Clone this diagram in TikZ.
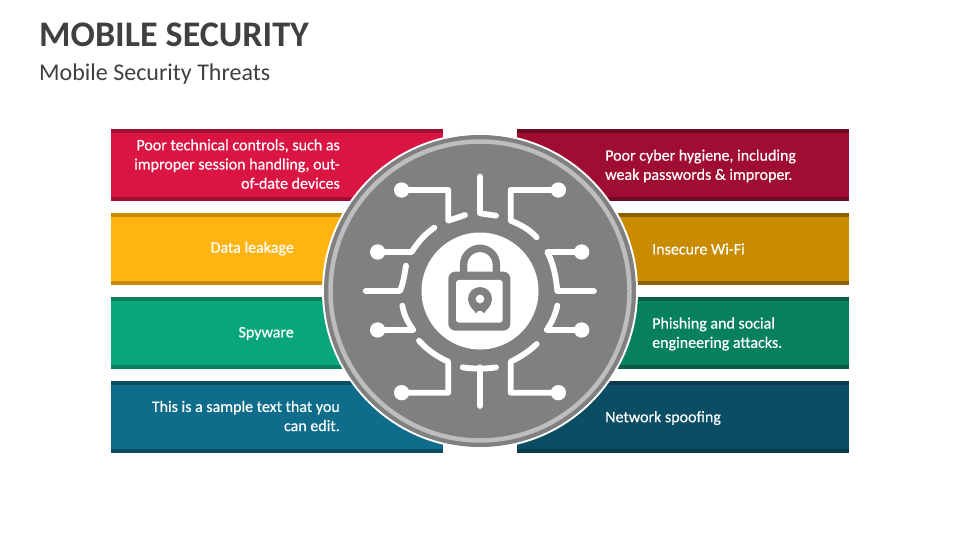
\documentclass[tikz,border=0pt]{standalone}
\usepackage{fontspec}
\setmainfont{Carlito}
\newfontfamily\semi[FakeBold=0.4]{Carlito}
\definecolor{ttl}{HTML}{404040}
\definecolor{gr}{HTML}{808080}
\definecolor{lgr}{HTML}{BDBDBD}
\definecolor{ra}{HTML}{DA1543}\definecolor{rb}{HTML}{A30E33}
\definecolor{ya}{HTML}{FFB511}\definecolor{yb}{HTML}{C98C00}
\definecolor{ga}{HTML}{08A67A}\definecolor{gb}{HTML}{07805E}
\definecolor{ba}{HTML}{0F6C8A}\definecolor{bb}{HTML}{0B4D63}
\definecolor{rc}{HTML}{A00D33}\definecolor{rd}{HTML}{6F0A25}
\definecolor{yc}{HTML}{C98C00}\definecolor{yd}{HTML}{8A6000}
\definecolor{gc}{HTML}{07805E}\definecolor{gd}{HTML}{0A5C46}
\definecolor{bc}{HTML}{0B4D63}\definecolor{bd}{HTML}{0D3A4A}
\tikzset{
 x=1pt,y=-1pt,
 lbl/.style={text=white,font=\semi\fontsize{16}{19.2}\selectfont,inner sep=0pt},
 lblr/.style={lbl,anchor=east,align=right},
 lbll/.style={lbl,anchor=west,align=left},
 trace/.style={draw=white,line width=5.8pt,line cap=round,line join=round},
 pad/.style={fill=white},
}
\newcommand{\barrow}[4]{% x, y, fill, edge
 \fill[#3] (#1,#2) rectangle ++(332,71.5);
 \fill[#4] (#1,#2) rectangle ++(332,4);
 \fill[#4] (#1,#2+67.5) rectangle ++(332,4);
}
\begin{document}
\begin{tikzpicture}
\useasboundingbox (0,0) rectangle (960,540);
\fill[white] (0,0) rectangle (960,540);
\node[anchor=west,inner sep=0pt,text=ttl,font=\bfseries\fontsize{36}{42}\selectfont] (title) at (39,35) {MOBILE SECURITY};
\node[anchor=west,inner sep=0pt,text=ttl,font=\fontsize{24}{28}\selectfont] (sub) at (39,74.5) {Mobile Security Threats};
\barrow{111}{129}{ra}{rb}
\barrow{111}{213}{ya}{yb}
\barrow{111}{297}{ga}{gb}
\barrow{111}{381}{ba}{bb}
\barrow{517}{129}{rc}{rd}
\barrow{517}{213}{yc}{yd}
\barrow{517}{297}{gc}{gd}
\barrow{517}{381}{bc}{bd}
\node[lblr] (t1) at (340,164) {Poor technical controls, such as\\improper session handling, out-\\of-date devices};
\node[lblr] (t2) at (294,248.5) {Data leakage};
\node[lblr] (t3) at (294,333.5) {Spyware};
\node[lblr] (t4) at (340,416) {This is a sample text that you\\can edit.};
\node[lbll] (t5) at (605,166) {Poor cyber hygiene, including\\weak passwords \& improper.};
\node[lbll] (t6) at (652,249) {Insecure Wi-Fi};
\node[lbll] (t7) at (652,334) {Phishing and social\\engineering attacks.};
\node[lbll] (t8) at (605,418) {Network spoofing};
\fill[white] (480,291) circle (158);
\fill[gr] (480,291) circle (156);
\draw[lgr,line width=4.5pt] (480,291) circle (149.5);
\fill[white] (480,291) circle (58.5);
\begin{scope}[shift={(320,130)},x=0.33333pt,y=-0.33333pt]
 % lock
 \draw[gr,line width=7.4pt] (431,440) -- (431,404) arc[start angle=180,end angle=360,radius=49] -- (529,440);
 \fill[gr,rounded corners=7pt] (385,425) rectangle (571,602);
 \fill[white,rounded corners=3pt] (408,450) rectangle (548,578);
 \fill[gr] (480,507) circle (36);
 \fill[gr] (449,526) -- (468,550) arc[start angle=200,end angle=340,radius=12.5] -- (511,526) -- cycle;
 \fill[white] (480,507) circle (13);
 % traces
 \path[trace] (245,180) -- (385,180) -- (385,272) -- (435,255);
 \path[trace] (480,140) -- (480,250) -- (528,257);
 \path[trace] (715,180) -- (572,180) -- (572,272) .. controls (605,285) and (630,300) .. (650,322);
 \path[trace] (173,366) -- (275,366) .. controls (295,335) and (315,312) .. (343,293);
 \path[trace] (137,483) -- (240,483) .. controls (250,460) and (253,435) .. (258,407);
 \path[trace] (173,600) -- (280,600) .. controls (262,575) and (252,555) .. (247,527);
 \path[trace] (245,788) -- (385,788) -- (385,695) .. controls (350,680) and (320,658) .. (297,632);
 \path[trace] (480,828) -- (480,712);
 \path[trace] (428,712) .. controls (460,717) and (500,717) .. (528,712);
 \path[trace] (715,788) -- (572,788) -- (572,695) .. controls (600,682) and (630,662) .. (650,642);
 \path[trace] (785,366) -- (682,366) .. controls (700,400) and (708,440) .. (712,483) -- (822,483);
 \path[trace] (785,600) -- (680,600) .. controls (695,578) and (706,555) .. (712,527);
 \fill[pad] (245,180) circle (23);
 \fill[pad] (715,180) circle (23);
 \fill[pad] (173,366) circle (23);
 \fill[pad] (785,366) circle (23);
 \fill[pad] (173,600) circle (23);
 \fill[pad] (785,600) circle (23);
 \fill[pad] (245,788) circle (23);
 \fill[pad] (715,788) circle (23);
\end{scope}
\end{tikzpicture}
\end{document}
